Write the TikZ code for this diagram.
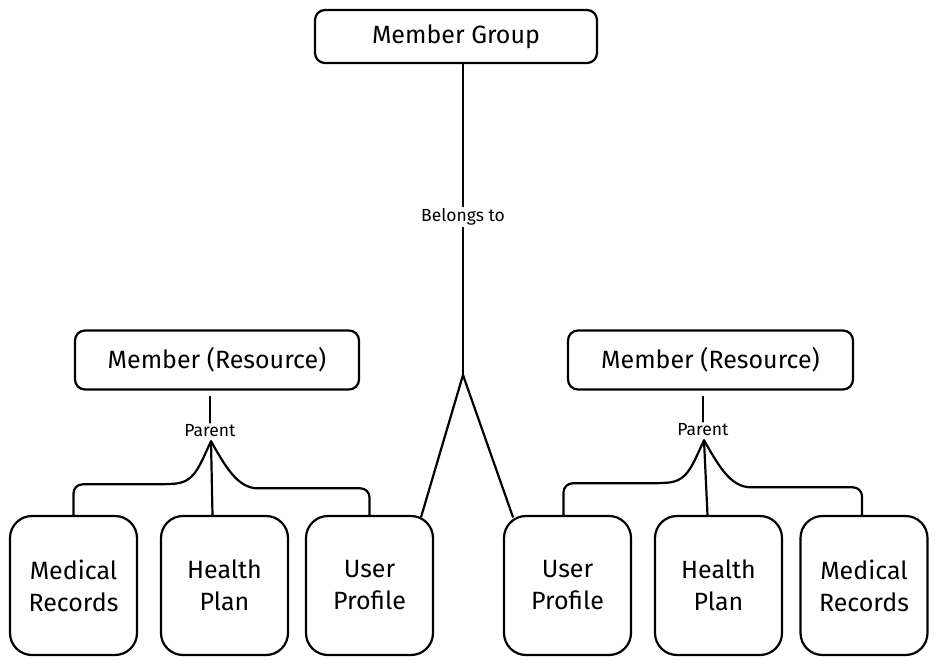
\documentclass[tikz,border=0pt]{standalone}
\usepackage{fontspec}
\setmainfont{Fira Sans}
\usetikzlibrary{calc}
\begin{document}
\begin{tikzpicture}[x=1pt,y=-1pt,
  box/.style={draw=black,line width=2.2pt,rounded corners=10pt,inner sep=0pt,
    font=\fontsize{25}{31}\selectfont},
  topbox/.style={box,minimum height=56pt},
  leafbox/.style={box,rounded corners=22pt,minimum width=127pt,minimum height=139pt,align=center},
  lbl/.style={fill=white,inner sep=2pt,font=\fontsize{17.5}{21}\selectfont},
  conn/.style={line width=2.2pt,line cap=round,line join=round}]
\useasboundingbox (0,0) rectangle (937,666);
\fill[white] (0,0) rectangle (937,666);
% boxes
\node[topbox,minimum width=282pt,minimum height=53pt] (mg) at (456,36.5) {Member Group};
\node[topbox,minimum width=284pt,minimum height=59pt] (lm) at (217,360) {Member (Resource)};
\node[topbox,minimum width=285pt,minimum height=59pt] (rm) at (710.5,360) {Member (Resource)};
\node[leafbox] (lmr) at (73.5,585.5) {Medical\\[1pt]Records};
\node[leafbox] (lhp) at (224.5,585.5) {Health\\[1pt]Plan};
\node[leafbox] (lup) at (369.5,585.5) {User\\[1pt]Profile};
\node[leafbox] (rup) at (567.5,585.5) {User\\[1pt]Profile};
\node[leafbox] (rhp) at (718.5,585.5) {Health\\[1pt]Plan};
\node[leafbox] (rmr) at (864,585.5) {Medical\\[1pt]Records};
% labels
\node[lbl] (bl) at (463,217) {Belongs to};
\node[lbl] (pl) at (210,431) {Parent};
\node[lbl] (pr) at (703,430) {Parent};
\coordinate (split) at (463,375);
% belongs to
\draw[conn] (bl) -- (bl |- mg.south);
\draw[conn] (bl) -- (split);
\draw[conn] (split) -- ($(lup.north east)+(-13,2)$);
\draw[conn] (split) -- ($(rup.north west)+(10,2)$);
% left parent
\draw[conn] (pl) -- ($(pl |- lm.south)+(0,6)$);
\draw[conn,rounded corners=9pt] ($(pl.south)+(1,2)$) .. controls +(-12,25) and +(30,-2) .. ($(pl.south)+(-45,45)$) -| (lmr.north);
\draw[conn] ($(pl.south)+(1,2)$) -- ($(lhp.north)+(-12,0)$);
\draw[conn,rounded corners=9pt] ($(pl.south)+(1,2)$) .. controls +(14,24) and +(-30,0) .. ($(pl.south)+(57,49)$) -| (lup.north);
% right parent
\draw[conn] (pr) -- ($(pr |- rm.south)+(0,6)$);
\draw[conn,rounded corners=9pt] ($(pr.south)+(1,2)$) .. controls +(-12,25) and +(30,-2) .. ($(pr.south)+(-45,45)$) -| ($(rup.north)+(-4,0)$);
\draw[conn] ($(pr.south)+(1,2)$) -- ($(rhp.north)+(-11,0)$);
\draw[conn,rounded corners=9pt] ($(pr.south)+(1,2)$) .. controls +(14,24) and +(-30,0) .. ($(pr.south)+(57,49)$) -| ($(rmr.north)+(-2,0)$);
\end{tikzpicture}
\end{document}
